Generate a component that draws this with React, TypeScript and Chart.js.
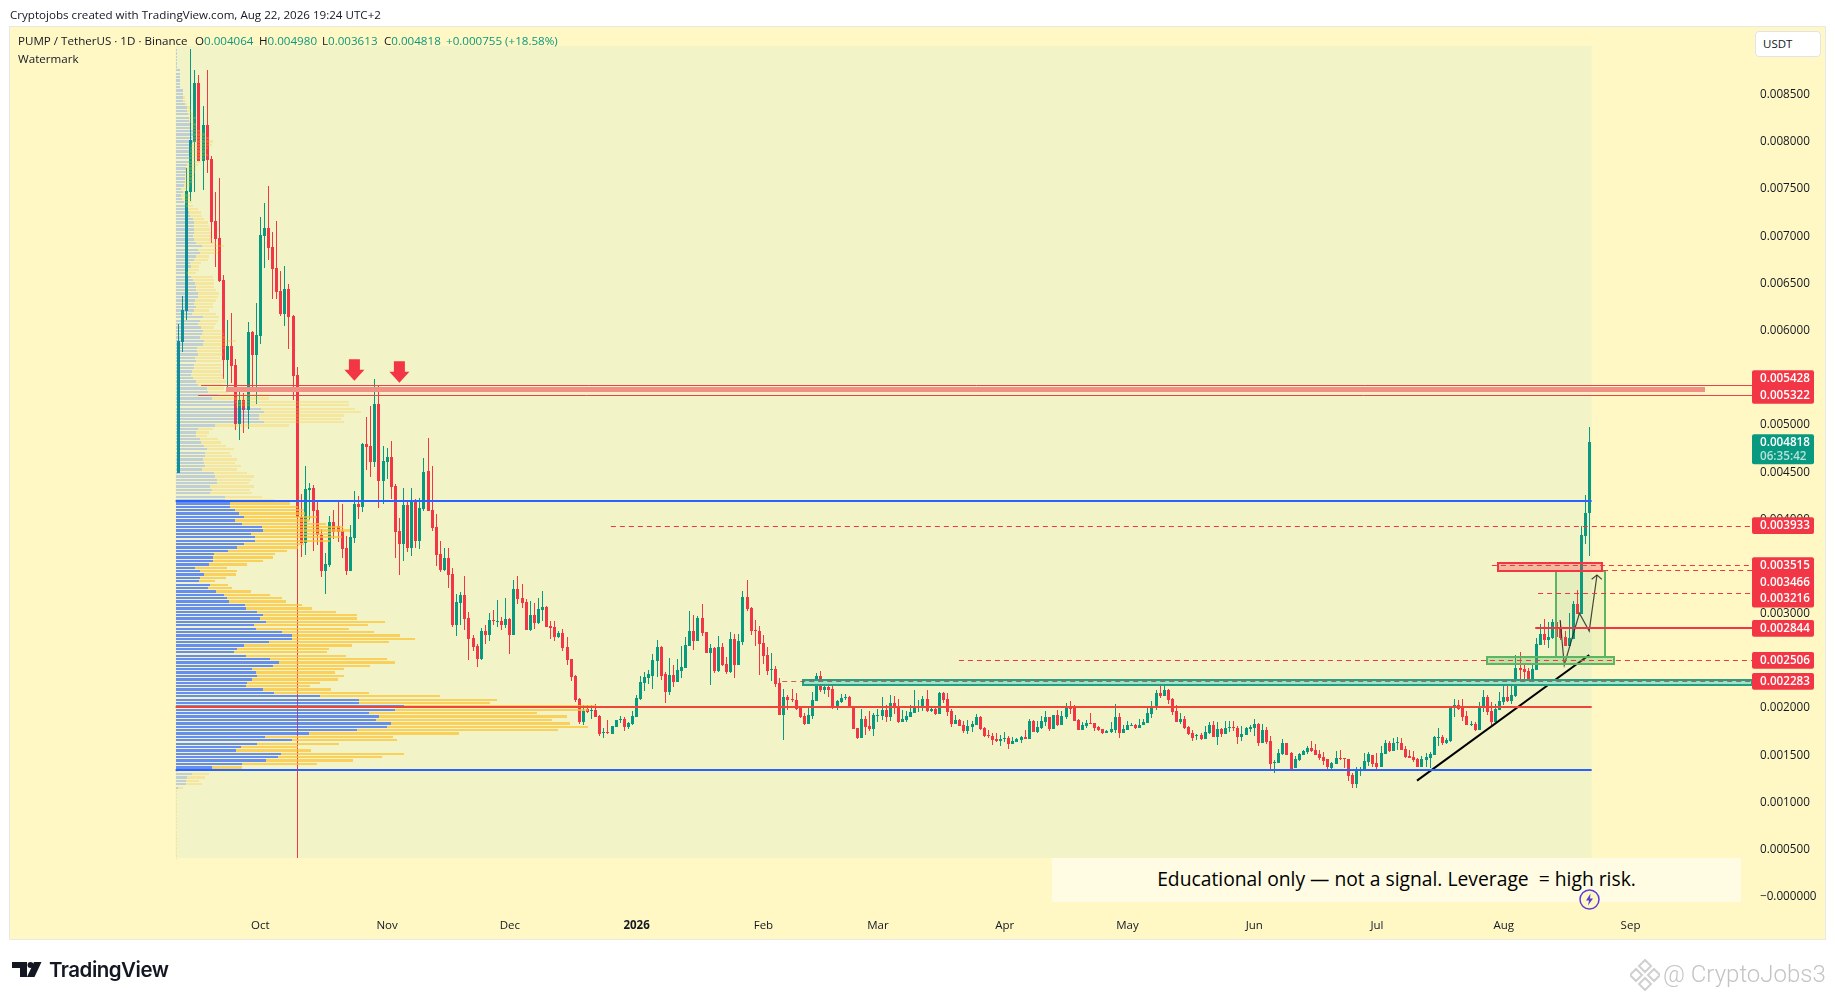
import { useEffect, useRef } from 'react'
import { Chart, registerables } from 'chart.js'

Chart.register(...registerables)

// all prices are in millionths of a USDT, one candle a day from Sep 11 2025 to Aug 22 2026
const opens = [
  4495,5880,6212,7473,8003,8625,7802,8180,7820,7163,6982,6537,5689,5838,5636,5011,5265,5159,5986,5742,
  5944,7004,7088,6887,6664,6421,6177,6442,6156,5530,4021,3753,4311,4332,4099,3834,3453,3516,3972,3930,
  3877,3696,3453,3802,4163,4131,4799,4777,4608,5223,4406,4608,4661,4354,3877,3739,4152,3696,4205,3771,
  4110,4512,4099,3919,3633,3463,3590,3421,2880,3117,3198,2954,2742,2658,2520,2817,2774,2933,2912,2923,
  2880,2944,2774,3262,3166,3124,2827,2986,2901,3039,3071,2870,2859,2753,2795,2647,2520,2340,2096,1852,
  1990,1968,1979,1916,1735,1746,1725,1799,1873,1884,1799,1831,1905,2096,2265,2318,2340,2498,2647,2361,
  2170,2350,2276,2393,2424,2657,2816,2710,2954,2806,2583,2636,2393,2647,2467,2382,2732,2456,2700,3177,
  3060,2827,2816,2689,2562,2403,2414,2265,1926,2117,2096,2085,2000,1916,1831,1916,2074,2340,2191,2223,
  2202,2011,2064,2106,2117,2011,1788,1682,1884,1809,1778,1915,1915,1979,1905,2053,2011,1852,1873,1905,
  1947,2000,2011,2096,1968,1990,1937,2159,2096,1968,1831,1873,1820,1756,1799,1820,1905,1788,1714,1703,
  1672,1650,1672,1682,1619,1640,1661,1693,1672,1862,1746,1788,1852,1905,1778,1926,1815,1905,2011,2011,
  1873,1767,1809,1841,1841,1799,1778,1735,1746,1767,1905,1735,1767,1809,1820,1788,1820,1841,1937,2011,
  2159,2127,2191,2096,1968,1852,1884,1799,1735,1703,1714,1672,1735,1820,1693,1778,1725,1788,1799,1788,
  1693,1714,1778,1788,1831,1629,1767,1650,1417,1417,1513,1629,1523,1360,1449,1502,1534,1576,1555,1513,
  1481,1460,1364,1407,1470,1470,1460,1290,1195,1332,1354,1428,1502,1417,1375,1513,1629,1544,1629,1629,
  1566,1491,1481,1460,1375,1449,1470,1502,1682,1693,1629,1650,2000,2032,2011,1915,1820,1831,1767,2000,
  2117,1969,1852,1979,2064,2117,2075,2128,2424,2414,2393,2244,2403,2668,2785,2721,2742,2912,2838,2753,
  2658,2732,3103,2997,3824,4064,
]
const highs = [
  6067,6368,7721,8986,8763,8710,8381,8763,7851,7470,7618,6590,6113,6187,5700,5403,5340,6092,5997,6293,
  7205,7353,7534,7046,7163,6633,6686,6495,6166,5615,4265,4566,4385,4364,4184,3898,3643,4036,4099,4184,
  4163,3824,3940,4300,4248,4809,5085,5201,5488,5424,4777,4756,4830,4375,4014,4332,4205,4332,4216,4226,
  4650,4862,4566,4057,3771,3696,3696,3484,3209,3230,3399,3018,2774,2679,2848,2880,3007,3039,3145,2965,
  3166,2954,3357,3399,3315,3156,3135,3113,3166,3241,3082,2923,2923,2817,2838,2753,2520,2350,2106,2029,
  2029,2029,2043,1926,1788,1873,1810,1873,1916,1905,1852,1968,2138,2340,2382,2403,2573,2721,2657,2382,
  2530,2456,2520,2657,2753,3028,2986,2975,3103,2806,2679,2647,2763,2689,2541,2806,2785,2785,3240,3357,
  3071,2933,2869,2774,2647,2583,2445,2318,2202,2138,2202,2159,2011,1947,2011,2170,2371,2393,2297,2297,
  2233,2085,2149,2149,2127,2011,1788,1990,1915,1968,1947,1990,2117,2032,2138,2127,2096,1979,1968,2032,
  2191,2085,2127,2191,2011,2011,2170,2170,2159,1990,1926,1884,1862,1873,1862,1937,1915,1799,1767,1735,
  1735,1714,1746,1703,1693,1682,1703,1767,1884,1873,1862,1915,1968,1905,1926,1979,1968,2053,2074,2032,
  1884,1852,1873,1947,1841,1809,1778,1767,1852,2043,1947,1820,1862,1841,1831,1884,1884,2000,2074,2191,
  2255,2233,2202,2106,2032,1947,1915,1809,1767,1725,1735,1809,1852,1862,1852,1788,1862,1862,1862,1809,
  1809,1799,1820,1884,1841,1831,1799,1703,1449,1566,1672,1629,1534,1491,1523,1555,1597,1650,1619,1555,
  1534,1460,1428,1544,1555,1470,1460,1311,1375,1375,1523,1534,1502,1523,1597,1661,1650,1682,1693,1682,
  1597,1555,1544,1470,1491,1523,1534,1703,1788,1714,1682,2011,2096,2085,2096,1968,1862,1852,2064,2191,
  2138,2064,2043,2170,2244,2287,2287,2562,2594,2456,2424,2456,2742,2891,2944,2912,2944,2986,2923,2817,
  3007,3135,3251,3929,4258,4980,
]
const lows = [
  4488,5774,6113,7375,7473,7802,7491,7675,6933,6678,6520,5488,5354,5449,4947,4841,4916,4958,5403,5223,
  5859,6664,6749,6336,6336,6156,6050,5806,5265,410,3605,3622,3993,3665,3728,3389,3209,3495,3792,3760,
  3590,3410,3453,3749,4004,4078,4523,4449,4555,4120,4163,4428,4216,3590,3410,3559,3654,3612,3700,3686,
  4089,4089,3877,3506,3442,3453,3272,2859,2764,2880,2827,2509,2605,2439,2509,2679,2711,2880,2859,2827,
  2848,2573,2774,3103,3060,2827,2817,2838,2891,2923,2859,2732,2711,2742,2605,2456,2286,2064,1831,1820,
  1947,1884,1905,1704,1682,1725,1725,1799,1841,1757,1778,1820,1905,2085,2180,2255,2202,2329,2297,2053,
  2138,2223,2276,2318,2424,2657,2615,2710,2763,2583,2244,2371,2382,2445,2361,2371,2318,2456,2668,3028,
  2774,2657,2350,2467,2350,2286,2223,1926,1661,1979,2064,1979,1894,1820,1831,1884,2074,2170,2149,2117,
  1990,1979,2053,2085,2011,1778,1672,1682,1714,1756,1703,1852,1873,1852,1862,1937,1841,1852,1852,1905,
  1947,1958,1968,1958,1958,1926,1937,2053,1915,1799,1831,1809,1735,1725,1746,1820,1767,1693,1682,1608,
  1640,1597,1640,1566,1619,1640,1629,1672,1672,1746,1735,1778,1809,1756,1778,1809,1815,1884,1937,1862,
  1767,1767,1788,1831,1756,1756,1725,1735,1735,1735,1682,1735,1767,1809,1778,1788,1820,1841,1894,1979,
  2106,2127,2043,1926,1852,1831,1778,1714,1650,1661,1661,1672,1725,1693,1608,1693,1725,1746,1756,1619,
  1650,1714,1746,1703,1597,1629,1619,1354,1311,1417,1502,1502,1343,1360,1439,1502,1513,1534,1502,1449,
  1396,1354,1354,1407,1449,1364,1227,1152,1152,1279,1343,1385,1375,1354,1375,1513,1534,1544,1555,1555,
  1470,1470,1428,1375,1375,1375,1364,1502,1597,1608,1619,1640,1905,1979,1862,1820,1809,1756,1767,1958,
  1926,1820,1852,1979,2032,2064,2043,2117,2276,2276,2233,2244,2403,2668,2668,2636,2732,2753,2721,2658,
  2658,2732,2997,2997,3739,3613,
]
const closes = [
  5891,6219,7481,8021,8625,7802,8180,7809,7152,6972,6530,5689,5838,5626,5011,5265,5159,5986,5742,5954,
  7014,7088,6876,6654,6410,6177,6442,6145,5520,4020,3753,4322,4332,4089,3834,3453,3527,3972,3866,3866,
  3686,3453,3813,4163,4131,4799,4767,4608,5223,4406,4618,4661,4343,3866,3739,4152,3696,4205,3771,4120,
  4502,4089,3908,3622,3463,3590,3410,2880,3124,3198,2944,2732,2647,2520,2817,2774,2933,2923,2923,2880,
  2944,2774,3262,3156,3113,2827,2986,2901,3050,3071,2859,2848,2753,2795,2636,2509,2329,2085,1852,1968,
  1958,1979,1905,1725,1746,1735,1810,1873,1884,1799,1841,1916,2106,2276,2329,2361,2509,2647,2340,2170,
  2350,2276,2403,2435,2668,2816,2710,2954,2795,2583,2636,2393,2647,2456,2382,2732,2456,2710,3177,3050,
  2816,2816,2679,2552,2393,2414,2255,1926,2117,2085,2085,1990,1905,1831,1926,2085,2340,2191,2223,2191,
  2000,2074,2106,2117,2011,1778,1682,1884,1799,1778,1926,1926,1979,1905,2053,2000,1852,1884,1915,1958,
  2011,2011,2096,1968,1990,1937,2159,2085,1958,1831,1873,1809,1756,1809,1831,1905,1778,1703,1703,1661,
  1650,1672,1682,1619,1650,1672,1693,1672,1862,1746,1799,1862,1905,1778,1926,1820,1915,2011,1990,1862,
  1767,1820,1841,1831,1788,1767,1735,1756,1778,1905,1735,1778,1820,1820,1788,1820,1852,1947,2011,2159,
  2127,2191,2085,1958,1852,1884,1788,1725,1682,1714,1672,1746,1820,1693,1778,1725,1788,1799,1788,1693,
  1725,1788,1799,1831,1629,1767,1640,1407,1428,1523,1629,1502,1354,1460,1513,1544,1576,1544,1502,1470,
  1439,1375,1417,1470,1460,1460,1279,1195,1332,1354,1439,1513,1407,1375,1523,1629,1544,1629,1640,1555,
  1481,1470,1449,1375,1460,1481,1513,1693,1693,1629,1661,2000,2032,1990,1905,1820,1831,1767,2000,2117,
  1958,1852,1990,2075,2117,2075,2138,2424,2403,2382,2244,2414,2679,2785,2721,2753,2912,2753,2742,2658,
  2742,3103,2997,3834,4067,4818,
]

// volume profile, one row per price step from the top of the range down
const vpTopPrice = 8975
const vpRowStep = 35.87
const vpBuy = [
  1,1,1,1,1,1,4,4,4,4,4,4,7,7,7,7,9,11,11,12,13,13,15,15,17,17,16,17,15,14,14,14,13,13,11,10,10,9,9,9,
  8,5,7,5,6,8,10,12,13,14,17,18,18,18,18,17,18,20,26,22,24,20,18,14,15,12,11,15,17,19,20,20,22,22,19,18,
  20,18,16,27,24,22,25,27,26,24,28,27,21,21,22,19,20,18,18,16,15,17,20,22,31,32,43,36,59,60,85,88,83,83,
  88,39,22,20,20,24,25,28,31,29,29,27,28,29,26,38,39,41,41,34,36,34,49,49,
  54,54,59,63,68,59,67,86,87,75,79,79,68,62,52,38,37,37,33,19,24,28,24,23,34,32,40,48,51,53,69,70,81,87,
  84,90,78,80,106,116,116,93,68,62,58,70,94,103,97,76,80,81,77,71,70,87,98,144,183,183,228,219,193,203,
  200,215,211,181,133,89,116,81,65,60,105,102,90,67,36,1,16,11,10,10,2,
  0,0,0,0,0,0,0,0,0,0,0,0,0,0,0,0,0,0,0,0,0,
]
const vpTotal = [
  1,1,1,1,1,1,4,4,4,4,4,4,7,7,9,10,11,14,15,17,20,18,20,21,25,30,33,37,36,32,30,32,28,25,22,20,19,18,17,17,
  14,11,9,14,16,16,17,22,25,26,28,32,33,34,35,35,36,40,48,43,42,33,32,25,23,23,20,37,38,38,38,40,43,42,40,37,
  37,33,40,43,42,40,38,47,48,50,60,52,50,45,47,44,45,45,45,45,47,48,50,47,48,52,94,93,173,173,179,185,168,165,
  168,113,37,33,31,42,45,50,58,54,57,61,59,65,62,72,78,75,73,78,74,77,86,98,
  114,122,128,129,141,134,150,167,174,155,166,154,128,122,111,99,97,87,71,51,61,60,50,39,52,57,75,94,106,110,126,136,160,181,
  181,209,192,173,198,224,239,213,176,153,151,170,211,219,194,168,159,168,162,144,134,155,193,264,322,314,420,412,361,391,
  376,394,412,382,283,217,221,163,122,135,228,206,177,141,66,2,33,29,23,26,7,
  1,1,1,1,1,1,1,1,1,1,1,1,1,1,1,1,1,1,1,1,1,
]
const vpValueAreaFirst = 134
const vpValueAreaLast = 212

const monthTicks = [20, 51, 81, 112, 143, 171, 202, 232, 263, 293, 324, 355]
const monthLabels = ['Oct', 'Nov', 'Dec', '2026', 'Feb', 'Mar', 'Apr', 'May', 'Jun', 'Jul', 'Aug', 'Sep']
const priceTicks = [0, 500, 1000, 1500, 2000, 2500, 3000, 3500, 4000, 4500, 5000, 5500, 6000, 6500, 7000, 7500, 8000, 8500]

// drawn levels: price, first day, last day, colour, width, dashed
const lastDay = 384.7
const levels: [number, number, number, string, number, boolean][] = [
  [5428, 5.5, lastDay, '#e8424a', 1, false],
  [5322, 4.8, lastDay, '#e8424a', 1, false],
  [4198, -0.7, 345.5, '#2962ff', 2, false],
  [2011, -0.7, 345.5, '#ef4438', 2, false],
  [1343, -0.7, 345.5, '#2962ff', 2, false],
  [3933, 105.7, lastDay, '#f23645', 1, true],
  [3515, 321.1, lastDay, '#f23645', 1, true],
  [3466, 348.3, lastDay, '#f23645', 1, true],
  [3216, 332.4, lastDay, '#f23645', 1, true],
  [2844, 331.7, lastDay, '#f23645', 2, false],
  [2506, 190.8, lastDay, '#f23645', 1, true],
]
const zoneDashPrice = 2283
const zoneDashFrom = 147.6

// drawn boxes: first day, last day, top price, bottom price, fill, border
const boxes: [number, number, number, number, string, string | null][] = [
  [11.6, 373.2, 5408, 5352, '#f29088', null],
  [152.7, lastDay, 2302, 2239, '#a3e0c8', '#22a07f'],
  [336.8, 348.8, 3456, 2538, 'rgba(92,184,92,0.08)', '#5cb562'],
  [319.9, 351, 2538, 2463, 'rgba(92,184,92,0.32)', '#5cb562'],
  [322.6, 348, 3534, 3456, 'rgba(242,54,69,0.3)', '#f23645'],
]

const trendLine = [
  { x: 302.8, y: 1230 },
  { x: 344.9, y: 2562 },
]
const zigzag = [
  { x: 337.8, y: 2933 },
  { x: 338.8, y: 2456 },
  { x: 342.5, y: 3004 },
  { x: 344.9, y: 2816 },
  { x: 346.8, y: 3410 },
]
const arrowHead = [
  { x: 345.5, y: 3364 },
  { x: 346.8, y: 3410 },
  { x: 348, y: 3364 },
]

const downArrows = [
  { day: 43, price: 5470 },
  { day: 54, price: 5448 },
]

// price tags on the axis: centre price and the labels stacked in that tag
const tagCentres = [5403, 3933, 3332, 2844, 2506, 2283]
const tagLabels = [
  ['0.005428', '0.005322'],
  ['0.003933'],
  ['0.003515', '0.003466', '0.003216'],
  ['0.002844'],
  ['0.002506'],
  ['0.002283'],
]
const lastPrice = 4818
const lastPriceLabel = '0.004818'
const countdownLabel = '06:35:42'

const AXIS_FONT = '"Open Sans", sans-serif'
const UP = '#089981'
const DOWN = '#f23645'
const TEXT = '#131722'

const days = opens.map((_, i) => i)
const candleColors = days.map((i) => (closes[i] >= opens[i] ? UP : DOWN))
const vpRows = vpBuy.map((_, k) => k)
const inValueArea = (k: number) => k >= vpValueAreaFirst && k <= vpValueAreaLast

const yMin = -119.8
const yMax = 9218.8

const drawings = {
  id: 'drawings',
  beforeDraw(chart: any) {
    const { ctx } = chart
    ctx.save()
    ctx.fillStyle = '#fff8c5'
    ctx.fillRect(10, 27, 1815, 912)
    ctx.strokeStyle = '#e8e8e4'
    ctx.strokeRect(9.5, 26.5, 1816, 913)
    ctx.restore()
  },
  beforeDatasetsDraw(chart: any) {
    const { ctx, scales } = chart
    const { x, y } = scales
    ctx.save()
    ctx.fillStyle = '#f2f3c6'
    const left = x.getPixelForValue(-0.73)
    const top = y.getPixelForValue(9017)
    ctx.fillRect(left, top, x.getPixelForValue(345.5) - left, y.getPixelForValue(410) - top)
    ctx.restore()
  },
  afterDatasetsDraw(chart: any) {
    const { ctx, scales } = chart
    const { x, y } = scales
    ctx.save()

    boxes.forEach(([from, to, high, low, fill, border]) => {
      const l = Math.round(x.getPixelForValue(from))
      const r = Math.round(x.getPixelForValue(to))
      const t = Math.round(y.getPixelForValue(high))
      const b = Math.round(y.getPixelForValue(low))
      ctx.fillStyle = fill
      ctx.fillRect(l, t, r - l, b - t)
      if (border) {
        ctx.strokeStyle = border
        ctx.lineWidth = 2
        ctx.strokeRect(l, t, r - l, b - t)
      }
    })

    const hline = (price: number, from: number, to: number, color: string, width: number, dashed: boolean) => {
      const py = Math.round(y.getPixelForValue(price)) + (width === 1 ? 0.5 : 0)
      ctx.strokeStyle = color
      ctx.lineWidth = width
      ctx.setLineDash(dashed ? [5, 4] : [])
      ctx.beginPath()
      ctx.moveTo(x.getPixelForValue(from), py)
      ctx.lineTo(x.getPixelForValue(to), py)
      ctx.stroke()
    }
    levels.forEach(([price, from, to, color, width, dashed]) => hline(price, from, to, color, width, dashed))
    hline(zoneDashPrice, zoneDashFrom, lastDay, 'rgba(190,60,70,0.8)', 1, true)
    ctx.setLineDash([])

    // red arrows, anchored on their tips
    ctx.fillStyle = DOWN
    downArrows.forEach(({ day, price }) => {
      const tx = x.getPixelForValue(day)
      const ty = y.getPixelForValue(price)
      ctx.beginPath()
      ctx.moveTo(tx, ty)
      ctx.lineTo(tx - 10, ty - 11)
      ctx.lineTo(tx - 5.5, ty - 11)
      ctx.lineTo(tx - 5.5, ty - 21.5)
      ctx.lineTo(tx + 5.5, ty - 21.5)
      ctx.lineTo(tx + 5.5, ty - 11)
      ctx.lineTo(tx + 10, ty - 11)
      ctx.closePath()
      ctx.fill()
    })

    // price tags
    const tagLeft = 1752
    const tagWidth = 62
    ctx.textBaseline = 'middle'
    ctx.textAlign = 'left'
    ctx.font = `600 11.7px ${AXIS_FONT}`
    tagLabels.forEach((labels, i) => {
      const cy = y.getPixelForValue(tagCentres[i])
      const h = 16.7 * labels.length
      ctx.fillStyle = DOWN
      ctx.beginPath()
      ctx.roundRect(tagLeft, cy - h / 2, tagWidth, h, 2)
      ctx.fill()
      ctx.fillStyle = '#ffffff'
      labels.forEach((label, j) => {
        ctx.fillText(label, tagLeft + 8, cy - h / 2 + 8.35 + j * 16.7)
      })
    })
    const py = y.getPixelForValue(lastPrice)
    ctx.fillStyle = UP
    ctx.beginPath()
    ctx.roundRect(tagLeft, py - 8, tagWidth, 30, 2)
    ctx.fill()
    ctx.fillStyle = '#ffffff'
    ctx.fillText(lastPriceLabel, tagLeft + 8, py)
    ctx.fillStyle = 'rgba(255,255,255,0.7)'
    ctx.fillText(countdownLabel, tagLeft + 8, py + 14.5)

    ctx.restore()
  },
  // TradingView draws bars on whole pixels, so do the same here
  afterDatasetsUpdate(chart: any) {
    chart.data.datasets.forEach((dataset: any, i: number) => {
      if (dataset.type !== 'bar') return
      chart.getDatasetMeta(i).data.forEach((el: any) => {
        if (el.horizontal) {
          const t = Math.round(el.y - el.height / 2)
          const b = Math.max(t + 1, Math.round(el.y + el.height / 2))
          el.y = (t + b) / 2
          el.height = b - t
          el.x = Math.round(el.x)
          el.base = Math.round(el.base)
        } else {
          const t = Math.round(Math.min(el.y, el.base))
          const b = Math.max(t + 1, Math.round(Math.max(el.y, el.base)))
          el.x = Math.floor(el.x) + 0.5
          el.y = t
          el.base = b
        }
      })
    })
  },
}

const labelStyle = (left: number, top: number, color = TEXT): React.CSSProperties => ({
  position: 'absolute',
  left,
  top,
  color,
  font: `11.6px/16px ${AXIS_FONT}`,
  whiteSpace: 'pre',
})

export default function App() {
  const ref = useRef<HTMLCanvasElement>(null)

  useEffect(() => {
    if (!ref.current) return

    const chart = new Chart(ref.current, {
      type: 'bar',
      plugins: [drawings],
      data: {
        datasets: [
          {
            type: 'bar',
            order: 2,
            xAxisID: 'x',
            yAxisID: 'y',
            data: days.map((i) => ({ x: i, y: [lows[i], highs[i]] })),
            backgroundColor: candleColors,
            grouped: false,
            barPercentage: 1,
            maxBarThickness: 1,
            inflateAmount: 0,
          },
          {
            type: 'bar',
            order: 1,
            xAxisID: 'x',
            yAxisID: 'y',
            data: days.map((i) => ({ x: i, y: [opens[i], closes[i]] })),
            backgroundColor: candleColors,
            grouped: false,
            barPercentage: 1,
            maxBarThickness: 3,
            inflateAmount: 0,
          },
          {
            type: 'bar',
            order: 0,
            indexAxis: 'y',
            xAxisID: 'xVol',
            yAxisID: 'yVol',
            data: vpRows.map((k) => ({ y: vpTopPrice - k * vpRowStep, x: [0, vpBuy[k]] })),
            backgroundColor: vpRows.map((k) => (inValueArea(k) ? 'rgba(41,98,255,0.7)' : 'rgba(41,98,255,0.25)')),
            grouped: false,
            barPercentage: 0.85,
            inflateAmount: 0,
          },
          {
            type: 'bar',
            order: 0,
            indexAxis: 'y',
            xAxisID: 'xVol',
            yAxisID: 'yVol',
            data: vpRows.map((k) => ({ y: vpTopPrice - k * vpRowStep, x: [vpBuy[k], vpTotal[k]] })),
            backgroundColor: vpRows.map((k) => (inValueArea(k) ? 'rgba(251,192,45,0.7)' : 'rgba(251,192,45,0.25)')),
            grouped: false,
            barPercentage: 0.85,
            inflateAmount: 0,
          },
          {
            type: 'line',
            order: -1,
            xAxisID: 'x',
            yAxisID: 'y',
            data: trendLine,
            borderColor: '#000000',
            borderWidth: 2,
            pointRadius: 0,
          },
          {
            type: 'line',
            order: -1,
            xAxisID: 'x',
            yAxisID: 'y',
            data: zigzag,
            borderColor: 'rgba(30,30,30,0.85)',
            borderWidth: 1.2,
            pointRadius: 0,
          },
          {
            type: 'line',
            order: -1,
            xAxisID: 'x',
            yAxisID: 'y',
            data: arrowHead,
            borderColor: 'rgba(30,30,30,0.85)',
            borderWidth: 1.2,
            pointRadius: 0,
          },
        ] as any,
      },
      options: {
        responsive: false,
        devicePixelRatio: 1,
        animation: false,
        events: [],
        layout: { padding: { left: 10, top: 27, right: 10, bottom: 60 } },
        plugins: { legend: { display: false }, tooltip: { enabled: false } },
        scales: {
          x: {
            type: 'linear',
            position: 'bottom',
            min: -41.2,
            max: lastDay,
            offset: false,
            grid: { display: false, drawTicks: false },
            border: { display: false },
            afterBuildTicks: (scale: any) => {
              scale.ticks = monthTicks.map((value) => ({ value }))
            },
            afterFit: (scale: any) => {
              scale.height = 32
            },
            ticks: {
              autoSkip: false,
              maxRotation: 0,
              padding: 11,
              color: TEXT,
              font: (c: any) => ({
                family: AXIS_FONT,
                size: 11.5,
                weight: c.tick && c.tick.value === 112 ? 'bold' : 'normal',
              }),
              callback: (value: any) => monthLabels[monthTicks.indexOf(value)],
            },
          },
          y: {
            type: 'linear',
            position: 'right',
            min: yMin,
            max: yMax,
            grid: { display: false, drawTicks: false },
            border: { display: false },
            afterBuildTicks: (scale: any) => {
              scale.ticks = priceTicks.map((value) => ({ value }))
            },
            afterFit: (scale: any) => {
              scale.width = 73
            },
            ticks: {
              padding: 8,
              color: TEXT,
              font: { family: AXIS_FONT, size: 11.7 },
              callback: (value: any) => (value === 0 ? '\u22120.000000' : (value / 1e6).toFixed(6)),
            },
          },
          xVol: {
            type: 'linear',
            display: false,
            position: 'bottom',
            min: -165.5,
            max: 1576.5,
            offset: false,
          },
          yVol: {
            type: 'linear',
            display: false,
            position: 'left',
            min: yMin,
            max: yMax,
            offset: false,
          },
        },
      } as any,
    })

    return () => chart.destroy()
  }, [])

  return (
    <div style={{ position: 'absolute', left: 0, top: 0, width: 1835, height: 1000, background: '#fff', overflow: 'hidden' }}>
      <canvas ref={ref} width={1835} height={1000} style={{ position: 'absolute', left: 0, top: 0 }} />

      <div style={labelStyle(10, 7)}>Cryptojobs created with TradingView.com, Aug 22, 2026 19:24 UTC+2</div>

      <div style={labelStyle(18, 33)}>PUMP / TetherUS · 1D · Binance</div>
      <div style={labelStyle(195, 33)}>O<span style={{ color: UP }}>0.004064</span></div>
      <div style={labelStyle(259, 33)}>H<span style={{ color: UP }}>0.004980</span></div>
      <div style={labelStyle(322, 33)}>L<span style={{ color: UP }}>0.003613</span></div>
      <div style={labelStyle(384, 33)}>C<span style={{ color: UP }}>0.004818</span></div>
      <div style={labelStyle(446, 33, UP)}>+0.000755 (+18.58%)</div>
      <div style={labelStyle(18, 51)}>Watermark</div>

      <div
        style={{
          position: 'absolute',
          left: 1755,
          top: 31,
          width: 66,
          height: 26,
          boxSizing: 'border-box',
          background: '#fff',
          border: '1px solid #e0e3eb',
          borderRadius: 4,
          color: TEXT,
          font: `11.5px/24px ${AXIS_FONT}`,
          paddingLeft: 7,
        }}
      >
        USDT
      </div>

      <div
        style={{
          position: 'absolute',
          left: 1052,
          top: 858,
          width: 689,
          height: 44,
          background: '#fffce3',
          color: '#000',
          font: `500 19.3px/42px "Open Sans", sans-serif`,
          textAlign: 'center',
          whiteSpace: 'pre',
        }}
      >
        Educational only — not a signal. Leverage  = high risk.
      </div>

      <svg style={{ position: 'absolute', left: 1578, top: 888 }} width={23} height={23} viewBox="0 0 23 23">
        <circle cx={11.5} cy={11.5} r={9.5} fill="#fff8c5" stroke="#5b3fd6" strokeWidth={1.5} />
        <path d="M12.5 5.5 L8 12.5 H11 L10 17.5 L15 10.5 H12 Z" fill="#5b3fd6" />
      </svg>

      <svg style={{ position: 'absolute', left: 12, top: 962 }} width={30} height={16} viewBox="0 0 30 16">
        <path d="M0 0 H15 V15 H8 V6 H0 Z" fill="#131722" />
        <circle cx={18.5} cy={3} r={3} fill="#131722" />
        <path d="M22 0 H29.5 L22.5 15 H15 Z" fill="#131722" />
      </svg>
      <div style={{ position: 'absolute', left: 49, top: 955, color: TEXT, font: '600 20.5px/30px Inter, sans-serif', letterSpacing: -0.5 }}>
        TradingView
      </div>

      <svg style={{ position: 'absolute', left: 1630, top: 959 }} width={30} height={32} viewBox="0 0 30 32">
        <path d="M15 1 L21 7 L15 13 L9 7 Z M6 10 L12 16 L6 22 L0 16 Z M24 10 L30 16 L24 22 L18 16 Z M15 19 L21 25 L15 31 L9 25 Z" fill="none" stroke="#d0d0d0" strokeWidth={2} />
      </svg>
      <div style={{ position: 'absolute', left: 1663, top: 956, color: '#c4c4c4', font: '300 24px/36px Roboto, sans-serif', whiteSpace: 'pre' }}>
        @ CryptoJobs3
      </div>
    </div>
  )
}
